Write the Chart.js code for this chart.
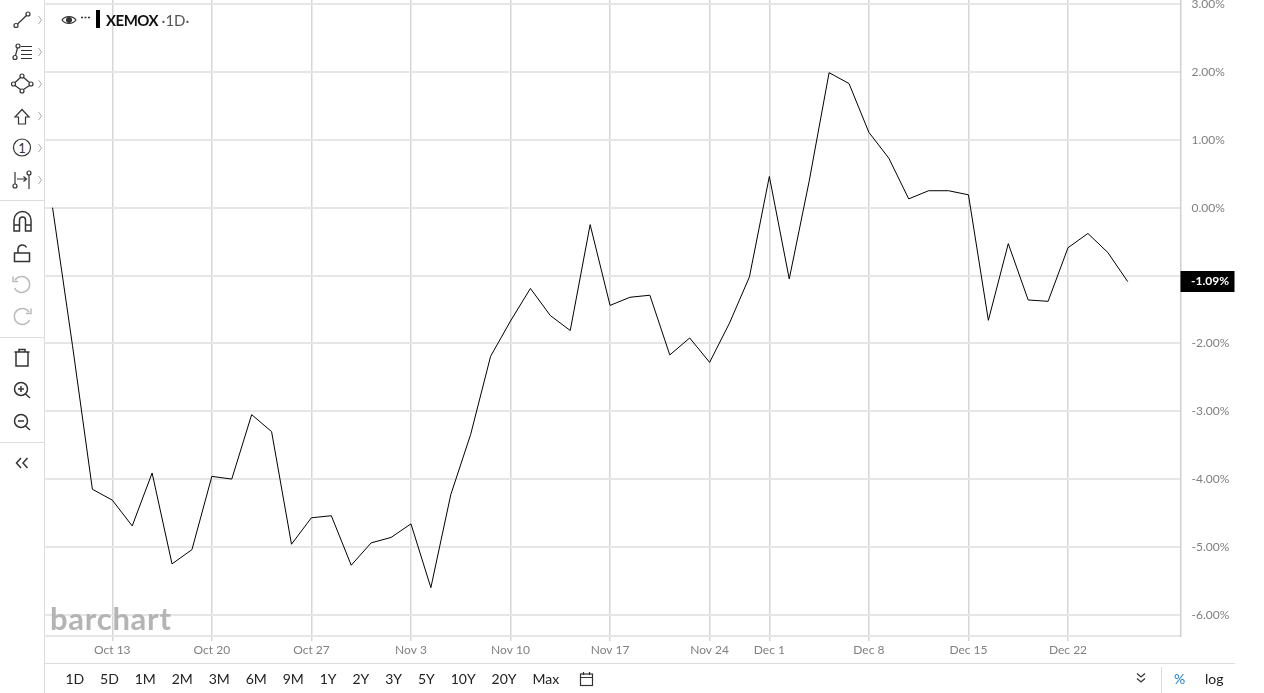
<!DOCTYPE html>
<html>
<head>
<meta charset="utf-8">
<title>XEMOX</title>
<script src="https://cdn.jsdelivr.net/npm/chart.js@4"></script>
<style>
   html, body { margin: 0; padding: 0; background: #fff; overflow: hidden; font-family: Lato, sans-serif; }
   #grafico { position: absolute; left: 45px; top: 0; }
   #lateral { position: absolute; left: 0; top: 0; }
   #legenda { position: absolute; left: 60px; top: 9px; height: 20px; width: 140px; font-size: 15px; line-height: 22px; color: #111; }
   #legenda svg { position: absolute; left: 0; top: 0; }
   #legenda b { position: absolute; left: 46px; top: 0; font-weight: 700; letter-spacing: -0.5px; }
   #legenda span { position: absolute; left: 101.5px; top: 0; color: #555; }
   #marca { position: absolute; left: 50px; top: 598px; font-size: 31px; line-height: 40px; font-weight: 700; color: #b4b4b4; letter-spacing: 0.75px; }
   #rodape { position: absolute; left: 45px; top: 663px; width: 1190px; height: 30px; border-top: 1px solid #ddd; box-sizing: border-box; }
   #periodos { position: absolute; left: 12.5px; top: 0; display: flex; height: 29px; line-height: 30px; font-size: 14px; color: #222; }
   #periodos span { padding: 0 7.95px; }
   #rodape svg { position: absolute; top: 0; left: 0; }
   #pct { position: absolute; left: 1129px; top: 0; line-height: 30px; font-size: 14px; color: #1a7fd4; }
   #log { position: absolute; left: 1160px; top: 0; line-height: 30px; font-size: 14px; color: #222; }
</style>
</head>
<body>
<canvas id="grafico" width="1190" height="664"></canvas>

<svg id="lateral" width="45" height="693" fill="none" stroke="#333" stroke-width="1.2">
   <line x1="44.5" y1="0" x2="44.5" y2="693" stroke="#ddd" stroke-width="1"/>
   <g stroke="#ddd" stroke-width="1">
      <line x1="0" y1="200.5" x2="44" y2="200.5"/>
      <line x1="0" y1="337.5" x2="44" y2="337.5"/>
      <line x1="0" y1="442.5" x2="44" y2="442.5"/>
   </g>
   <g stroke="#aaa" stroke-width="1">
      <polyline points="38.5,16 41.5,20 38.5,24"/>
      <polyline points="38.5,48 41.5,52 38.5,56"/>
      <polyline points="38.5,80 41.5,84 38.5,88"/>
      <polyline points="38.5,112 41.5,116 38.5,120"/>
      <polyline points="38.5,144 41.5,148 38.5,152"/>
      <polyline points="38.5,176 41.5,180 38.5,184"/>
   </g>
   <!-- linha -->
   <circle cx="16" cy="25.5" r="2"/><circle cx="28" cy="14" r="2"/><line x1="17.5" y1="24" x2="26.5" y2="15.5"/>
   <!-- fibonacci -->
   <circle cx="15" cy="57.5" r="2"/><circle cx="18" cy="46" r="2"/><line x1="15.5" y1="55.5" x2="17.5" y2="48"/>
   <path d="M21 46.5H32M21 50.5H32M21 54.5H32M21 58.5H32"/>
   <!-- formas -->
   <circle cx="22" cy="76" r="2"/><circle cx="13.5" cy="84" r="2"/><circle cx="31" cy="84" r="2"/><circle cx="22" cy="91" r="2"/>
   <path d="M20.5 77.5L15 82.5M23.5 77.5L29.5 82.5M15 85.5L20.5 89.5M29.5 85.5L23.5 89.5"/>
   <!-- seta -->
   <path d="M22 109.5L15 117H18.5V124H25.5V117H29Z"/>
   <!-- contador -->
   <circle cx="22" cy="147.5" r="8.5"/>
   <text x="22" y="152.5" text-anchor="middle" font-size="13" fill="#333" stroke="none" font-family="Lato">1</text>
   <!-- medida -->
   <path d="M15 172V184M29 175V189M17 179H26M23.5 176.5L26.5 179L23.5 181.5"/>
   <circle cx="15" cy="186" r="2"/><circle cx="29" cy="173" r="2"/>
   <!-- ima -->
   <path stroke-width="1.5" d="M14 231V220A8.5 8.5 0 0 1 31 220V231H25.5V220A3 3 0 0 0 19.5 220V231ZM14 225H19.5M25.5 225H31"/>
   <!-- cadeado -->
   <rect x="14.5" y="253" width="15" height="8.5" stroke-width="1.5"/>
   <path stroke-width="1.5" d="M18 253V249A4.5 4.5 0 0 1 26.5 247.5"/>
   <!-- desfazer / refazer -->
   <g stroke="#bbb" stroke-width="1.5">
      <path d="M15 280A8 8 0 1 1 14.5 288M13 276.5V281.5H18"/>
      <path d="M29 312A8 8 0 1 0 29.5 320M31 308.5V313.5H26"/>
   </g>
   <!-- lixeira -->
   <path stroke-width="1.5" d="M14.5 352H29.5M16 352V366H28V352M19 352V349.5H25V352"/>
   <!-- zoom -->
   <circle cx="21" cy="389" r="6.5" stroke-width="1.5"/><path stroke-width="1.5" d="M25.5 394L30 398M18 389H24M21 386V392"/>
   <circle cx="21" cy="421" r="6.5" stroke-width="1.5"/><path stroke-width="1.5" d="M25.5 426L30 430M18 421H24"/>
   <!-- recolher -->
   <path stroke-width="1.5" d="M21 458L16.5 463L21 468M27.5 458L23 463L27.5 468"/>
</svg>

<div id="legenda">
   <svg width="42" height="22" fill="none">
      <path d="M2 11C5 6.5 13 6.5 16 11C13 15.5 5 15.5 2 11Z" stroke="#333" stroke-width="1.2"/>
      <circle cx="9" cy="11" r="3" fill="#333"/>
      <path d="M21 8.5H23M24.5 8.5H26.5M28 8.5H30" stroke="#333" stroke-width="1.6"/>
      <rect x="36" y="1" width="4" height="18" fill="#000"/>
   </svg>
   <b>XEMOX</b><span>·1D·</span>
</div>

<div id="marca">barchart</div>

<div id="rodape">
   <div id="periodos"></div>
   <svg width="1190" height="30" fill="none" stroke="#333" stroke-width="1.2">
      <rect x="535.5" y="10" width="12" height="11.5"/>
      <path d="M535.5 13.5H547.5M538.5 8V11M544.5 8V11"/>
      <path d="M1092 9.5L1096 13L1100 9.5M1092 14.5L1096 18L1100 14.5"/>
      <line x1="1116.5" y1="3" x2="1116.5" y2="29" stroke="#ddd" stroke-width="1"/>
   </svg>
   <div id="pct">%</div>
   <div id="log">log</div>
</div>

<script>
//-> DADOS DO GRAFICO...
const categorias = ['Oct 8', 'Oct 9', 'Oct 10', 'Oct 13', 'Oct 14', 'Oct 15', 'Oct 16', 'Oct 17', 'Oct 20', 'Oct 21', 'Oct 22', 'Oct 23', 'Oct 24', 'Oct 27', 'Oct 28', 'Oct 29', 'Oct 30', 'Oct 31', 'Nov 3', 'Nov 4', 'Nov 5', 'Nov 6', 'Nov 7', 'Nov 10', 'Nov 11', 'Nov 12', 'Nov 13', 'Nov 14', 'Nov 17', 'Nov 18', 'Nov 19', 'Nov 20', 'Nov 21', 'Nov 24', 'Nov 25', 'Nov 26', 'Dec 1', 'Dec 2', 'Dec 3', 'Dec 4', 'Dec 5', 'Dec 8', 'Dec 9', 'Dec 10', 'Dec 11', 'Dec 12', 'Dec 15', 'Dec 16', 'Dec 17', 'Dec 18', 'Dec 19', 'Dec 22', 'Dec 23', 'Dec 24', 'Dec 26'];
const valores = [0.00, -2.03, -4.15, -4.31, -4.69, -3.91, -5.25, -5.04, -3.96, -4.00, -3.05, -3.30, -4.96, -4.57, -4.54, -5.27, -4.94, -4.86, -4.66, -5.60, -4.23, -3.34, -2.19, -1.67, -1.19, -1.59, -1.81, -0.25, -1.44, -1.32, -1.29, -2.17, -1.92, -2.28, -1.70, -1.02, 0.46, -1.05, 0.39, 1.99, 1.83, 1.11, 0.73, 0.13, 0.25, 0.25, 0.19, -1.66, -0.53, -1.36, -1.38, -0.59, -0.38, -0.66, -1.09];
const rotulosX = ['Oct 13', 'Oct 20', 'Oct 27', 'Nov 3', 'Nov 10', 'Nov 17', 'Nov 24', 'Dec 1', 'Dec 8', 'Dec 15', 'Dec 22'];
const periodos = ['1D', '5D', '1M', '2M', '3M', '6M', '9M', '1Y', '2Y', '3Y', '5Y', '10Y', '20Y', 'Max'];

const divPeriodos = document.getElementById('periodos');
periodos.forEach(p => {
   const item = document.createElement('span');
   item.textContent = p;
   divPeriodos.appendChild(item);
});

//-> etiqueta preta do ultimo valor
const etiquetaUltimo = {
   id: 'etiquetaUltimo',
   afterDraw(chart) {
      const ultimo = valores[valores.length - 1];
      const y = chart.scales.y.getPixelForValue(ultimo);
      const x = chart.chartArea.right;
      const ctx = chart.ctx;
      ctx.save();
      ctx.fillStyle = '#000';
      ctx.fillRect(x, Math.round(y) - 11, 54, 21);
      ctx.fillStyle = '#fff';
      ctx.font = 'bold 12px Lato';
      ctx.textAlign = 'left';
      ctx.textBaseline = 'middle';
      ctx.fillText(ultimo.toFixed(2) + '%', x + 10.5, Math.round(y) - 0.5);
      ctx.restore();
   }
};

const semPadding = scale => {
   scale.paddingLeft = 0;
   scale.paddingRight = 0;
   scale.paddingTop = 0;
   scale.paddingBottom = 0;
};

const grafVendas = document.getElementById('grafico').getContext('2d');
new Chart(grafVendas, {
   type: 'line',
   data: {
      datasets: [{
         data: valores.map((v, i) => ({ x: i, y: v })),
         borderColor: '#000',
         borderWidth: 1,
         pointRadius: 0,
         tension: 0,
         fill: false
      }]
   },
   options: {
      responsive: false,
      animation: false,
      devicePixelRatio: 1,
      layout: { padding: 0 },
      plugins: { legend: { display: false }, tooltip: { enabled: false } },
      scales: {
         x: {
            type: 'linear',
            min: -0.38,
            max: 56.65,
            afterBuildTicks: scale => {
               scale.ticks = rotulosX.map(r => ({ value: categorias.indexOf(r) }));
            },
            afterFit: scale => {
               scale.height = 28;
               semPadding(scale);
            },
            grid: { color: '#d6d6d6', lineWidth: 1.5, tickLength: 5, tickColor: '#d6d6d6' },
            border: { display: true, color: '#e6e6e6', width: 2 },
            ticks: {
               autoSkip: false,
               maxRotation: 0,
               padding: 2,
               color: '#808080',
               font: { family: 'Lato', size: 12 },
               callback: v => categorias[v]
            }
         },
         y: {
            position: 'right',
            min: -6.3126,
            max: 3.0611,
            afterFit: scale => {
               scale.width = 54.5;
               semPadding(scale);
            },
            grid: { color: '#e6e6e6', lineWidth: 2, drawTicks: false },
            border: { display: true, color: '#d0d0d0', width: 1.5 },
            ticks: {
               stepSize: 1,
               includeBounds: false,
               crossAlign: 'near',
               padding: 11,
               color: '#808080',
               font: { family: 'Lato', size: 12 },
               callback: v => v.toFixed(2) + '%'
            }
         }
      }
   },
   plugins: [etiquetaUltimo]
});
</script>
</body>
</html>
